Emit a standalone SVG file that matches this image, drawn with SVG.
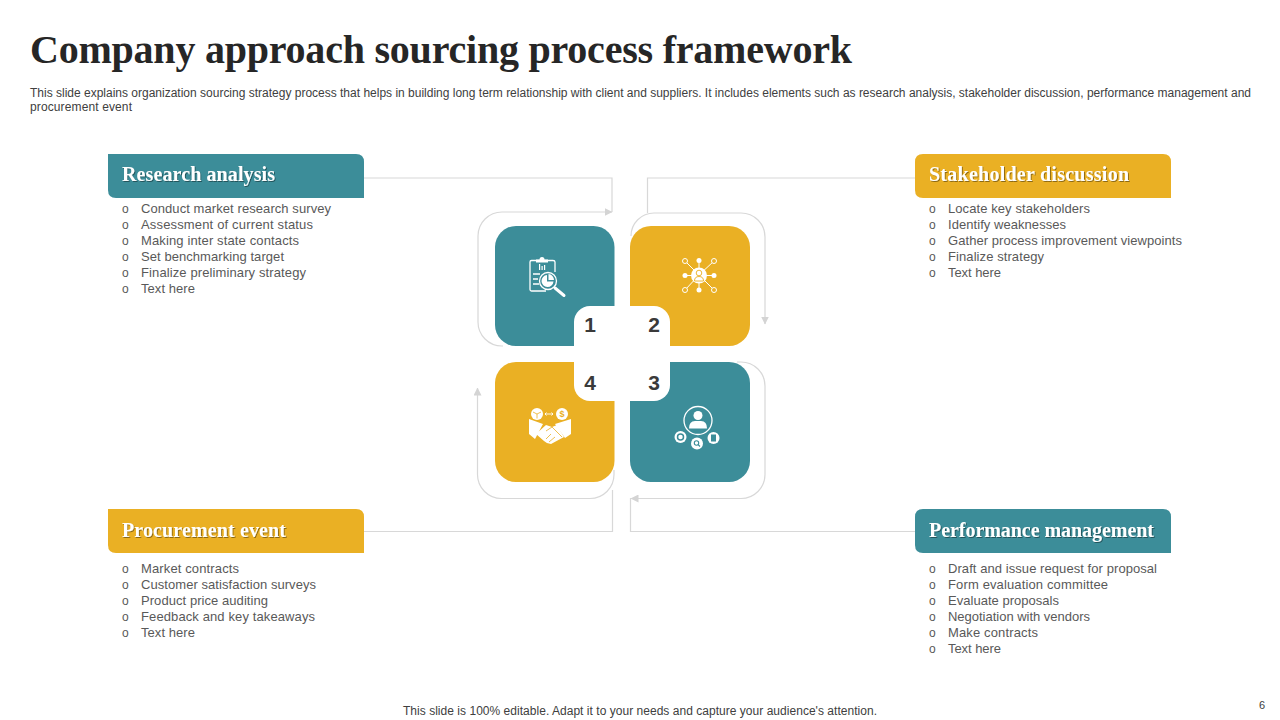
<svg xmlns="http://www.w3.org/2000/svg" width="1280" height="720" viewBox="0 0 1280 720">
<defs>
<marker id="ah" viewBox="0 0 8 8" refX="7.500" refY="4" markerWidth="8" markerHeight="8" markerUnits="userSpaceOnUse" orient="auto"><path d="M0 0L8 4L0 8Z" fill="#d4d4d4"/></marker>
<filter id="ts" x="-5%" y="-20%" width="110%" height="140%"><feDropShadow dx="1" dy="1" stdDeviation="0.6" flood-color="#000" flood-opacity="0.4"/></filter>
</defs>
<style>
.title{font-family:"Liberation Serif","Times New Roman",serif;font-weight:700;font-size:40px;fill:#262626}
.sub{font-family:"Liberation Sans",Arial,sans-serif;font-size:12px;fill:#404040}
.head{font-family:"Liberation Serif","Times New Roman",serif;font-weight:700;font-size:20px;fill:#fff;filter:url(#ts)}
.li{font-family:"Liberation Sans",Arial,sans-serif;font-size:13px;fill:#595959}
.bu{font-size:12px}
.num{font-family:"Liberation Sans",Arial,sans-serif;font-weight:700;font-size:21px;fill:#3a3a3a;text-anchor:middle}
.line{fill:none;stroke:#d8d8d8;stroke-width:1.200}
.teal{fill:#3c8d99}.gold{fill:#eab024}
.ic{fill:none;stroke:#fff;stroke-width:1.300}
.if{fill:#fff}
</style>
<rect width="1280" height="720" fill="#fff"/>
<text class="title" x="30" y="63" textLength="822">Company approach sourcing process framework</text>
<text class="sub" x="30" y="97" textLength="1221">This slide explains organization sourcing strategy process that helps in building long term relationship with client and suppliers. It includes elements such as research analysis, stakeholder discussion, performance management and</text>
<text class="sub" x="30" y="111" textLength="102">procurement event</text>

<g id="connectors">
<path class="line" d="M364 178H612V212"/>
<path class="line" marker-end="url(#ah)" d="M503 346H502A24 24 0 0 1 478 322V236A24 24 0 0 1 502 212H612"/>
<path class="line" d="M915 178H647.500V213"/>
<path class="line" marker-end="url(#ah)" d="M631 236A23 23 0 0 1 654 213H741A24 24 0 0 1 765 237V324"/>
<path class="line" d="M915 531.500H630.500V498"/>
<path class="line" marker-end="url(#ah)" d="M737 362H741A24 24 0 0 1 765 386V474.500A24 24 0 0 1 741 498.500H631"/>
<path class="line" d="M364 531.500H612.500V490"/>
<path class="line" marker-end="url(#ah)" d="M614 470V474.500A24 24 0 0 1 590 498.500H501.500A24 24 0 0 1 477.500 474.500V388"/>
</g>

<g id="node-1"><rect class="teal" x="495" y="226" width="119.500" height="120" rx="21"/>
<g id="icon-1">
<path class="ic" d="M555 272V262Q555 260.500 553 260.500H531.500Q530 260.500 530 262V289.500Q530 291 531.500 291H546"/>
<path class="if" d="M536 259.500H539.500A2.500 2.500 0 0 1 544.500 259.500H548V262.500H536Z"/>
<path class="ic" d="M533 274H540M533 279H538M533 284H539"/>
<path class="if" d="M539 264h1.200v6h-1.200zM541.500 266h1.200v4h-1.200zM544 265h1.200v5h-1.200z"/>
<circle class="ic" cx="548" cy="281" r="8.500"/>
<path class="if" d="M547 275a6 6 0 1 0 6.500 6.500h-6.500z"/>
<path class="if" d="M548.500 274a6 6 0 0 1 5.500 6h-5.500z"/>
<path d="M555 288L564 295.500" stroke="#fff" stroke-width="3" stroke-linecap="round"/>
</g></g>
<g id="node-2"><rect class="gold" x="630" y="226" width="120" height="120" rx="21"/>
<g id="icon-2">
<path d="M699 275L685 261M699 275L714 261M699 275L685 290M699 275L714 290M699 260V290M685 275.500H714" stroke="#fff" stroke-width="1" fill="none"/>
<circle class="if" cx="699" cy="275.500" r="8"/>
<circle cx="699" cy="273" r="2.800" fill="none" stroke="#eab024" stroke-width="0.900"/>
<path d="M694.500 281Q694.500 276.500 699 276.500Q703.500 276.500 703.500 281Z" fill="none" stroke="#eab024" stroke-width="0.900"/>
<circle class="if" cx="699" cy="260.500" r="2.500"/><circle class="if" cx="699" cy="290" r="2.500"/><circle class="if" cx="685" cy="275.500" r="2.500"/><circle class="if" cx="714" cy="275.500" r="2.500"/>
<circle cx="685" cy="261" r="2.500" fill="#eab024" stroke="#fff"/><circle cx="714" cy="261" r="2.500" fill="#eab024" stroke="#fff"/><circle cx="685" cy="290" r="2.500" fill="#eab024" stroke="#fff"/><circle cx="714" cy="290" r="2.500" fill="#eab024" stroke="#fff"/>
</g></g>
<g id="node-3"><rect class="teal" x="630" y="362" width="120" height="120" rx="21"/>
<g id="icon-3">
<circle class="ic" cx="698" cy="420.500" r="14"/>
<circle class="if" cx="698" cy="415.500" r="4.500"/>
<path class="if" d="M689 428.500Q689 421 695 421H701Q707 421 707 428.500Z"/>
<circle class="if" cx="680.500" cy="437" r="6"/><circle class="if" cx="697" cy="443.500" r="6"/><circle class="if" cx="713.500" cy="438" r="6"/>
<circle cx="680.500" cy="437" r="3" fill="none" stroke="#3c8d99" stroke-width="1.500"/>
<circle cx="696.500" cy="443" r="2.200" fill="none" stroke="#3c8d99" stroke-width="1.100"/>
<path d="M698 444.500L700 446.500" stroke="#3c8d99" stroke-width="1.100"/>
<rect x="711" y="434.500" width="5" height="7" fill="#3c8d99"/>
</g></g>
<g id="node-4"><rect class="gold" x="495" y="362" width="119.500" height="120" rx="21"/>
<g id="icon-4">
<circle class="if" cx="537" cy="414" r="6"/>
<path d="M533 412L537 414L541 412M537 414V418.500" stroke="#eab024" stroke-width="0.800" fill="none"/>
<circle class="if" cx="562" cy="414" r="6"/>
<text class="num" style="font-size:9px;fill:#eab024" x="562" y="417">$</text>
<path d="M545 414H553M546.500 412.500L545 414L546.500 415.500M551.500 412.500L553 414L551.500 415.500" stroke="#fff" stroke-width="0.900" fill="none"/>
<path class="if" d="M529 419L543 424L535 439L529 434ZM571 419L571 434L565 438L555 424Z"/>
<path class="if" d="M536 434L546 425L552 427L557 425L564 437L551 444Q547 444 544 441Z"/>
<path d="M546 431L552 427L562 437M546 439L551 434M549 442L555 437" stroke="#eab024" stroke-width="0.800" fill="none"/>
</g></g>
<g id="center">
<rect x="574" y="306" width="96" height="95" rx="16" fill="#fff"/>
<text class="num" x="590" y="332">1</text>
<text class="num" x="654" y="332">2</text>
<text class="num" x="654" y="390">3</text>
<text class="num" x="590" y="390">4</text>
</g>

<g id="card-1">
<path class="teal" d="M116 154H356Q364 154 364 162V198H116Q108 198 108 190V154Z"/>
<text class="head" x="122" y="181" textLength="153">Research analysis</text>
<g class="li"><text class="bu" x="122" y="213">o</text><text x="141" y="213" textLength="190">Conduct market research survey</text>
<text class="bu" x="122" y="229">o</text><text x="141" y="229" textLength="172">Assessment of current status</text>
<text class="bu" x="122" y="245">o</text><text x="141" y="245" textLength="158">Making inter state contacts</text>
<text class="bu" x="122" y="261">o</text><text x="141" y="261" textLength="143">Set benchmarking target</text>
<text class="bu" x="122" y="277">o</text><text x="141" y="277" textLength="165">Finalize preliminary strategy</text>
<text class="bu" x="122" y="293">o</text><text x="141" y="293" textLength="54">Text here</text></g>
</g>
<g id="card-2">
<path class="gold" d="M923 154H1163Q1171 154 1171 162V198H923Q915 198 915 190V162Q915 154 923 154Z"/>
<text class="head" x="929" y="181" textLength="200">Stakeholder discussion</text>
<g class="li"><text class="bu" x="929" y="213">o</text><text x="948" y="213" textLength="142">Locate key stakeholders</text>
<text class="bu" x="929" y="229">o</text><text x="948" y="229" textLength="118">Identify weaknesses</text>
<text class="bu" x="929" y="245">o</text><text x="948" y="245" textLength="234">Gather process improvement viewpoints</text>
<text class="bu" x="929" y="261">o</text><text x="948" y="261" textLength="96">Finalize strategy</text>
<text class="bu" x="929" y="277">o</text><text x="948" y="277" textLength="53">Text here</text></g>
</g>
<g id="card-3">
<path class="teal" d="M923 509H1163Q1171 509 1171 517V553H923Q915 553 915 545V517Q915 509 923 509Z"/>
<text class="head" x="929" y="537" textLength="225">Performance management</text>
<g class="li"><text class="bu" x="929" y="573">o</text><text x="948" y="573" textLength="209">Draft and issue request for proposal</text>
<text class="bu" x="929" y="589">o</text><text x="948" y="589" textLength="160">Form evaluation committee</text>
<text class="bu" x="929" y="605">o</text><text x="948" y="605" textLength="111">Evaluate proposals</text>
<text class="bu" x="929" y="621">o</text><text x="948" y="621" textLength="142">Negotiation with vendors</text>
<text class="bu" x="929" y="637">o</text><text x="948" y="637" textLength="90">Make contracts</text>
<text class="bu" x="929" y="653">o</text><text x="948" y="653" textLength="53">Text here</text></g>
</g>
<g id="card-4">
<path class="gold" d="M116 509H356Q364 509 364 517V553H116Q108 553 108 545V509Z"/>
<text class="head" x="122" y="537" textLength="164">Procurement event</text>
<g class="li"><text class="bu" x="122" y="573">o</text><text x="141" y="573" textLength="98">Market contracts</text>
<text class="bu" x="122" y="589">o</text><text x="141" y="589" textLength="175">Customer satisfaction surveys</text>
<text class="bu" x="122" y="605">o</text><text x="141" y="605" textLength="127">Product price auditing</text>
<text class="bu" x="122" y="621">o</text><text x="141" y="621" textLength="174">Feedback and key takeaways</text>
<text class="bu" x="122" y="637">o</text><text x="141" y="637" textLength="54">Text here</text></g>
</g>
<text class="sub" x="403" y="715" textLength="474">This slide is 100% editable. Adapt it to your needs and capture your audience's attention.</text>
<text class="sub" x="1259" y="709" style="font-size:11px">6</text>
</svg>
